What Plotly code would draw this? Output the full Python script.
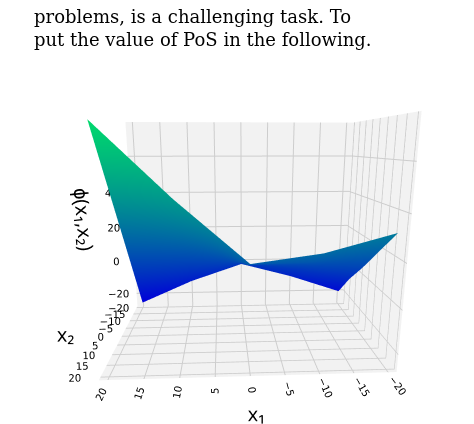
import plotly.graph_objects as go

x1 = [-20, -10, 0, 10, 20]
x2 = [-20, -10, 0, 10, 20]
# rows: x2, cols: x1
phi = [
    [-20, -10, -2, -12, -25],
    [-6, 0, 4, 3, 0],
    [6, 8, 9, 18, 25],
    [19, 15, 14, 32, 50],
    [32, 24, 20, 46, 75],
]
winter = [[0, "rgb(0,0,255)"], [1, "rgb(0,255,128)"]]

fig = go.Figure(go.Surface(x=x1, y=x2, z=phi, colorscale=winter, showscale=False,
                           lighting=dict(ambient=0.85, diffuse=0.4, specular=0.05)))
ax = dict(backgroundcolor="rgb(242,242,242)", showbackground=True, gridcolor="rgb(205,205,205)",
          zeroline=False, tickfont=dict(size=11, color="black", family="DejaVu Sans"))
fig.update_layout(
    width=474, height=424, margin=dict(l=0, r=0, t=0, b=0), paper_bgcolor="white",
    scene=dict(
        xaxis=dict(ax, title=dict(text="x₁", font=dict(size=20, color="black")), tickvals=[-20, -15, -10, -5, 0, 5, 10, 15, 20]),
        yaxis=dict(ax, title=dict(text="x₂", font=dict(size=20, color="black")), tickvals=[-20, -15, -10, -5, 0, 5, 10, 15, 20]),
        zaxis=dict(ax, title=dict(text="ϕ(x₁,x₂)", font=dict(size=20, color="black")), tickvals=[-20, 0, 20, 40, 60]),
        camera=dict(eye=dict(x=0.08, y=1.5, z=0.3), center=dict(x=0, y=0, z=-0.08)),
        aspectmode="manual", aspectratio=dict(x=0.92, y=0.62, z=0.78),
        domain=dict(x=[0, 1], y=[0.0, 0.84]),
    ),
    annotations=[
        dict(text="problems, is a challenging task. To", x=0.05, y=1.01, xref="paper", yref="paper",
             showarrow=False, xanchor="left", yanchor="top", font=dict(size=18, family="DejaVu Serif", color="black")),
        dict(text="put the value of PoS in the following.", x=0.05, y=0.955, xref="paper", yref="paper",
             showarrow=False, xanchor="left", yanchor="top", font=dict(size=18, family="DejaVu Serif", color="black")),
    ],
)
fig.write_html("out.html")
